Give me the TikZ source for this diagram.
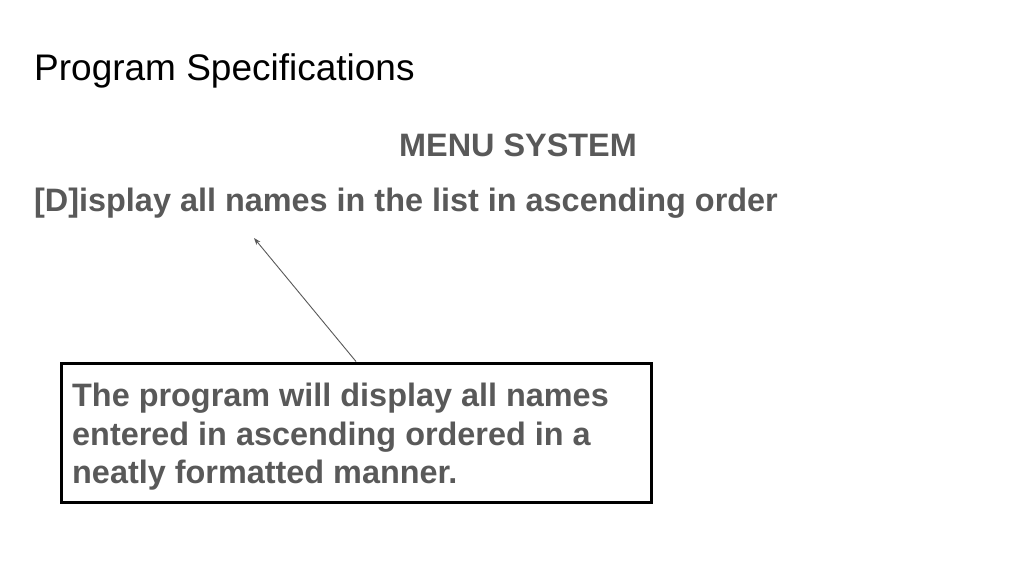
\documentclass[tikz,border=0pt]{standalone}
\usepackage{fontspec}
\setmainfont{Liberation Sans}
\usetikzlibrary{arrows.meta}
\definecolor{txtgray}{HTML}{595959}
\begin{document}
\begin{tikzpicture}[x=1pt,y=-1pt,
  titletext/.style={anchor=base west,inner sep=0pt,font=\fontsize{37}{44}\selectfont,text=black},
  boldtext/.style={inner sep=0pt,font=\fontsize{32.4}{38.6}\selectfont\bfseries,text=txtgray},
  callout/.style={draw=black,line width=3pt,minimum width=590pt,minimum height=139pt,inner sep=0pt},
  pointer/.style={draw=txtgray,line width=0.9pt,-{Stealth[length=7pt,width=5pt]}}]
\useasboundingbox[fill=white] (0,0) rectangle (1024,564);
\node[titletext] (title) at (34,81) {Program Specifications};
\node[boldtext,anchor=base] (menu) at (518,157) {MENU SYSTEM};
\node[boldtext,anchor=base west] (disp) at (34,211) {[D]isplay all names in the list in ascending order};
\node[callout] (box) at (356,432.5) {};
\node[boldtext,anchor=north west,align=left] (boxtext) at (72,383) {The program will display all names\\entered in ascending ordered in a\\neatly formatted manner.};
\coordinate (tip) at (254,238);
\draw[pointer] (box.north) -- (tip);
\end{tikzpicture}
\end{document}
